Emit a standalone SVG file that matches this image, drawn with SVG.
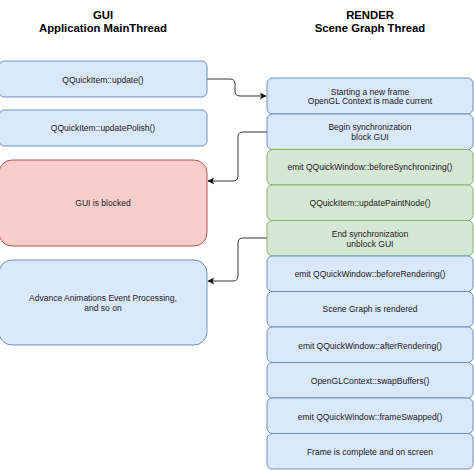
<svg xmlns="http://www.w3.org/2000/svg" width="474" height="470" viewBox="0 0 474 470">
<defs>
<style>
.t{font-family:"Liberation Sans",Arial,sans-serif;font-size:8.5px;fill:#1a1a1a;text-anchor:middle}
.h{font-family:"Liberation Sans",Arial,sans-serif;font-size:11.3px;font-weight:bold;fill:#000;text-anchor:middle}
.b{fill:#dae8fc;stroke:#6c8ebf;stroke-width:1}
.g{fill:#d5e8d4;stroke:#82b366;stroke-width:1}
.r{fill:#f8cecc;stroke:#b85450;stroke-width:1}
.c{fill:none;stroke:#333;stroke-width:1}
</style>
<marker id="ah" viewBox="0 0 10 10" refX="9" refY="5" markerWidth="7" markerHeight="7" markerUnits="userSpaceOnUse" orient="auto">
<path d="M0,0 L10,5 L0,10 L2.5,5 Z" fill="#111"/>
</marker>
</defs>
<rect width="474" height="470" fill="#fff"/>
<g id="titles">
<text class="h" x="103" y="19">GUI</text>
<text class="h" x="103" y="32">Application MainThread</text>
<text class="h" x="370" y="19">RENDER</text>
<text class="h" x="370" y="32">Scene Graph Thread</text>
</g>
<g id="connectors">
<path class="c" d="M207,79 H230 Q235,79 235,84 V91 Q235,96 240,96 H266" marker-end="url(#ah)"/>
<path class="c" d="M267,132 H243 Q238,132 238,137 V176 Q238,181 233,181 H208" marker-end="url(#ah)"/>
<path class="c" d="M267,238 H243 Q238,238 238,243 V276 Q238,281 233,281 H208" marker-end="url(#ah)"/>
</g>
<g id="gui-update"><rect class="b" x="-1" y="61" width="208" height="36" rx="5.4"/><text class="t" x="103" y="83">QQuickItem::update()</text></g>
<g id="gui-polish"><rect class="b" x="-1" y="110" width="208" height="36" rx="5.4"/><text class="t" x="103" y="131">QQuickItem::updatePolish()</text></g>
<g id="gui-blocked"><rect class="r" x="-1" y="160" width="208" height="86" rx="13"/><text class="t" x="103" y="206">GUI is blocked</text></g>
<g id="gui-advance"><rect class="b" x="-1" y="260" width="208" height="85" rx="13"/><text class="t" x="103" y="300.5">Advance Animations Event Processing,</text><text class="t" x="103" y="310.5">and so on</text></g>
<g id="r1"><rect class="b" x="267" y="78" width="206" height="36" rx="5.4"/><text class="t" x="370" y="94.7">Starting a new frame</text><text class="t" x="370" y="104.2">OpenGL Context is made current</text></g>
<g id="r2"><rect class="b" x="267" y="114" width="206" height="35.5" rx="5.4"/><text class="t" x="370" y="130">Begin synchronization</text><text class="t" x="370" y="139.6">block GUI</text></g>
<g id="r3"><rect class="g" x="267" y="149.5" width="206" height="35.5" rx="5.4"/><text class="t" x="370" y="170.3">emit QQuickWindow::beforeSynchronizing()</text></g>
<g id="r4"><rect class="g" x="267" y="185" width="206" height="35.5" rx="5.4"/><text class="t" x="370" y="205.7">QQuickItem::updatePaintNode()</text></g>
<g id="r5"><rect class="g" x="267" y="220.5" width="206" height="35.5" rx="5.4"/><text class="t" x="370" y="237">End synchronization</text><text class="t" x="370" y="247">unblock GUI</text></g>
<g id="r6"><rect class="b" x="267" y="256" width="206" height="35.5" rx="5.4"/><text class="t" x="370" y="277">emit QQuickWindow::beforeRendering()</text></g>
<g id="r7"><rect class="b" x="267" y="291.5" width="206" height="35.5" rx="5.4"/><text class="t" x="370" y="312">Scene Graph is rendered</text></g>
<g id="r8"><rect class="b" x="267" y="327" width="206" height="35.5" rx="5.4"/><text class="t" x="370" y="348.7">emit QQuickWindow::afterRendering()</text></g>
<g id="r9"><rect class="b" x="267" y="362.5" width="206" height="35.5" rx="5.4"/><text class="t" x="370" y="384">OpenGLContext::swapBuffers()</text></g>
<g id="r10"><rect class="b" x="267" y="398" width="206" height="35.5" rx="5.4"/><text class="t" x="370" y="419.7">emit QQuickWindow::frameSwapped()</text></g>
<g id="r11"><rect class="b" x="267" y="433.5" width="206" height="35.5" rx="5.4"/><text class="t" x="370" y="454.7">Frame is complete and on screen</text></g>
</svg>
